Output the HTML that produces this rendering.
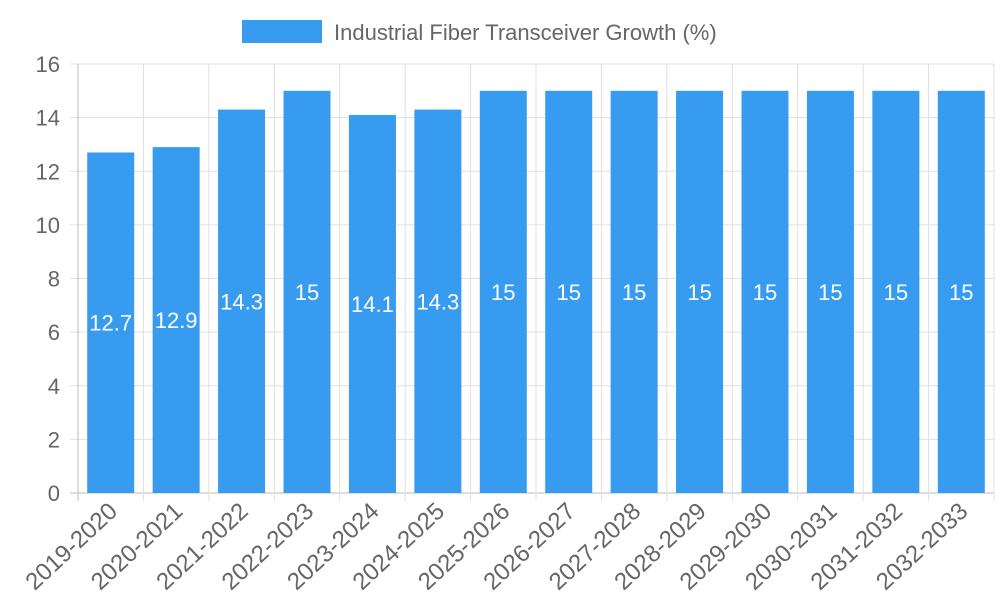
<!DOCTYPE html>
<html><head><meta charset="utf-8"><style>
html,body{margin:0;padding:0;background:#fff}
svg text{font-family:"Liberation Sans",sans-serif}
</style></head><body>
<svg id="chart" width="1000" height="600" xmlns="http://www.w3.org/2000/svg">
<g>
<rect x="242" y="20" width="80" height="23" fill="#379cf0"/>
<text x="334" y="40" font-size="22" fill="#666">Industrial Fiber Transceiver Growth (%)</text>
</g>
<g id="grid"></g><g id="bars"></g><g id="labels"></g>
</svg>
<script>
const categories=["2019-2020","2020-2021","2021-2022","2022-2023","2023-2024","2024-2025","2025-2026","2026-2027","2027-2028","2028-2029","2029-2030","2030-2031","2031-2032","2032-2033"];
const values=[12.7,12.9,14.3,15,14.1,14.3,15,15,15,15,15,15,15,15];
const yTicks=[0,2,4,6,8,10,12,14,16];
const NS="http://www.w3.org/2000/svg";
const L=78,R=994,T=64,B=493,yMax=16;
const bw=(R-L)/categories.length;
const y=v=>B-(v/yMax)*(B-T);
const x=i=>L+i*bw;
function mk(tag,attrs,parent,txt){const e=document.createElementNS(NS,tag);for(const k in attrs)e.setAttribute(k,attrs[k]);if(txt!==undefined)e.textContent=txt;document.getElementById(parent).appendChild(e);return e;}
yTicks.forEach(t=>{
 const g=mk('line',{x1:70,x2:R,y1:y(t),y2:y(t),stroke:t===0?'#bbb':'#e0e0e0','stroke-width':1},'grid');
 
 
 const tx=mk('text',{x:60,y:y(t)+8,'text-anchor':'end','font-size':22,fill:'#666'},'labels',String(t));
 
 
});
for(let i=0;i<=categories.length;i++){
 const g=mk('line',{x1:x(i),x2:x(i),y1:T,y2:B+8,stroke:i===0?'#bbb':'#e0e0e0','stroke-width':1},'grid');
 
 
}
categories.forEach((c,i)=>{
 const cx=x(i)+bw/2;
 const b=mk('rect',{x:cx-23.5,y:y(values[i]),width:47,height:B-y(values[i]),fill:'#379cf0'},'bars');
 
 
 const v=mk('text',{x:cx,y:(y(values[i])+B)/2+8,'text-anchor':'middle','font-size':22,fill:'#fff'},'labels',String(values[i]));
 
 
 const t=mk('text',{x:0,y:0,'text-anchor':'end','font-size':24,fill:'#666',transform:`translate(${cx+8},${B+20}) rotate(-43)`},'labels',c);
 
 
});
</script>
</body></html>
